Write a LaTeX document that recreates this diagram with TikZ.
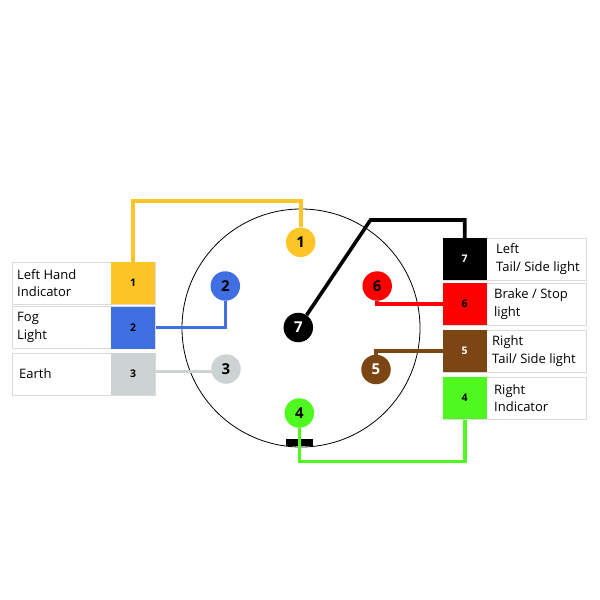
\documentclass[tikz,border=0pt]{standalone}
\usepackage{fontspec}
\setmainfont{Open Sans}
\usetikzlibrary{backgrounds}
\definecolor{cyel}{HTML}{FDC526}
\definecolor{cblu}{HTML}{3F6FE3}
\definecolor{cgry}{HTML}{CDD3D2}
\definecolor{cred}{HTML}{FF0000}
\definecolor{cbrn}{HTML}{7B4613}
\definecolor{cgrn}{HTML}{4FF81F}
\definecolor{cbrd}{HTML}{DADADA}
\begin{document}
\begin{tikzpicture}[x=1pt,y=-1pt,
 pin/.style={circle,minimum size=29.5pt,inner sep=0pt,font=\fontsize{15}{15}\selectfont\bfseries},
 wire/.style={line width=3.6pt},
 frame/.style={draw=cbrd,line width=0.9pt,minimum width=143pt,minimum height=42pt,inner sep=0pt},
 num/.style={minimum width=44pt,minimum height=42pt,inner sep=0pt,font=\fontsize{10.5}{10.5}\selectfont\bfseries},
 lbl/.style={anchor=west,align=left,inner sep=0pt,font=\fontsize{13}{17.5}\selectfont}]
\useasboundingbox (0,0) rectangle (600,600);

% pins
\node[pin,fill=cyel] (p1) at (300.7,242.3) {1};
\node[pin,fill=cblu] (p2) at (225.3,286) {2};
\node[pin,fill=cgry] (p3) at (226,369) {3};
\node[pin,fill=black,text=white] (p7) at (298.3,327.5) {7};
\node[pin,fill=cred] (p6) at (377.2,286) {6};
\node[pin,fill=cbrn,text=white] (p5) at (376,369.5) {5};
\node[pin,fill=cgrn] (p4) at (299.3,413) {4};

% left boxes
\node[frame] (b1) at (83.5,283) {};
\node[num,fill=cyel] (b1num) at (133,283) {1};
\node[lbl] (t1) at (17,283) {Left Hand\\Indicator};
\node[frame] (b2) at (83.5,327.5) {};
\node[num,fill=cblu] (b2num) at (133,327.5) {2};
\node[lbl] (t2) at (17,327.5) {Fog\\Light};
\node[frame] (b3) at (83.5,374) {};
\node[num,fill=cgry] (b3num) at (133,374) {3};
\node[lbl] (t3) at (19,374) {Earth};

% right boxes
\node[frame] (b7) at (514.7,259) {};
\node[num,fill=black,text=white] (b7num) at (464.7,259) {7};
\node[lbl] (t7) at (496,259) {Left\\Tail/ Side light};
\node[frame] (b6) at (514.7,304) {};
\node[num,fill=cred] (b6num) at (464.7,304) {6};
\node[lbl] (t6) at (494,304) {Brake / Stop\\light};
\node[frame] (b5) at (514.7,351) {};
\node[num,fill=cbrn,text=white] (b5num) at (464.7,351) {5};
\node[lbl] (t5) at (492,351) {Right\\Tail/ Side light};
\node[frame] (b4) at (514.7,398) {};
\node[num,fill=cgrn] (b4num) at (464.7,398) {4};
\node[lbl] (t4) at (494,398) {Right\\Indicator};

\begin{pgfonlayer}{background}
\fill[white] (0,0) rectangle (600,600);
\node[draw,circle,minimum size=238pt,line width=0.8pt,inner sep=0pt] (plug) at (301,328) {};
\node[fill=black,minimum width=27pt,minimum height=7.5pt,inner sep=0pt] (key) at (299.5,442.5) {};
\path (b1num.north) ++(0,-61) coordinate (y1);
\draw[wire,cyel] (b1num.north) -- (y1) -| (p1);
\draw[wire,cblu] (b2num.east) -| (p2);
\coordinate (g3) at (200,371.5);
\draw[wire,cgry] (b3num.east |- g3) -- (p3 |- g3);
\coordinate (k7) at (370.5,220);
\draw[wire,black] (p7) -- (k7) -| (b7num);
\draw[wire,cred] (p6) |- (b6num.west);
\draw[wire,cbrn] (p5) |- (b5num.west);
\path (b4num.south) ++(0,42.2) coordinate (g4);
\draw[wire,cgrn] (b4num.south) -- (g4) -| (p4);
\end{pgfonlayer}
\end{tikzpicture}
\end{document}
